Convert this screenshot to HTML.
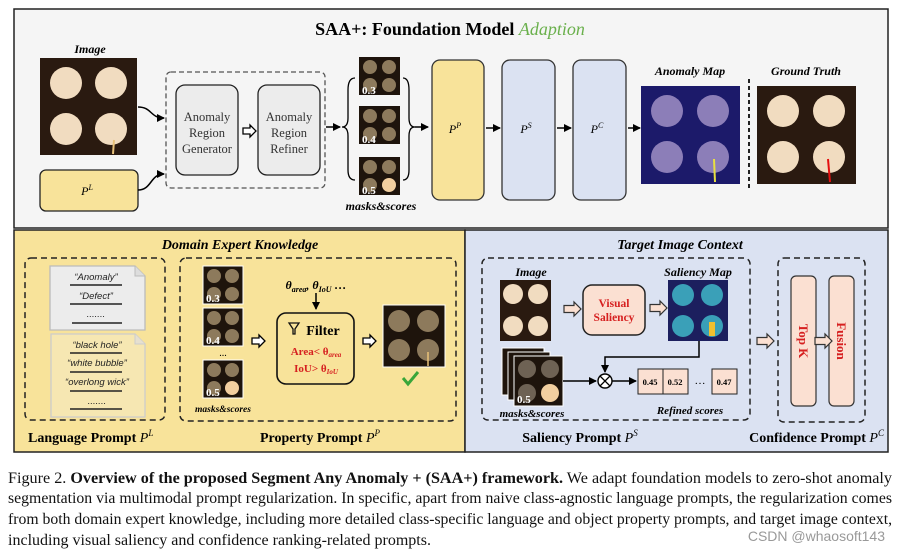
<!DOCTYPE html>
<html><head><meta charset="utf-8"><style>
html,body{margin:0;padding:0;background:#fff;}
svg{display:block;font-family:"Liberation Serif",serif;}
</style></head><body>
<svg width="899" height="555" viewBox="0 0 899 555" xmlns="http://www.w3.org/2000/svg">
<defs>
<marker id="ah" markerWidth="8" markerHeight="8" refX="7" refY="4" orient="auto" markerUnits="userSpaceOnUse"><path d="M0,0 L8,4 L0,8 z" fill="#000"/></marker>
<g id="hol"><path d="M0,-3 L7,-3 L7,-6 L13,0 L7,6 L7,3 L0,3 z" fill="#fff" stroke="#000" stroke-width="1.3"/></g>
<g id="holP"><path d="M0,-3.5 L10,-3.5 L10,-7 L17,0 L10,7 L10,3.5 L0,3.5 z" fill="#fbe0d2" stroke="#333" stroke-width="1.2"/></g>
</defs>

<!-- TOP PANEL -->
<rect x="14" y="9" width="874" height="219" fill="#f5f5f5" stroke="#222" stroke-width="1.5"/>
<text x="450" y="35" text-anchor="middle" font-size="18" font-weight="bold">SAA+: Foundation Model <tspan fill="#6ab04c" font-style="italic" font-weight="normal">Adaption</tspan></text>

<text x="90" y="53" text-anchor="middle" font-size="12" font-weight="bold" font-style="italic">Image</text>
<rect x="40" y="58" width="97" height="97" fill="#2a1a10"/>
<circle cx="66" cy="83" r="16" fill="#f1dcc0"/><circle cx="111" cy="83" r="16" fill="#f1dcc0"/>
<circle cx="66" cy="129" r="16" fill="#f1dcc0"/><circle cx="111" cy="129" r="16" fill="#f1dcc0"/>
<line x1="114" y1="140" x2="113" y2="154" stroke="#e9c27a" stroke-width="2"/>
<rect x="40" y="170" width="98" height="41" rx="6" fill="#f8e39a" stroke="#222" stroke-width="1.3"/>
<text x="87" y="195" text-anchor="middle" font-size="12" font-style="italic">P<tspan font-size="8" dy="-5">L</tspan></text>
<path d="M138,107 C152,107 150,118 164,118" fill="none" stroke="#000" stroke-width="1.5" marker-end="url(#ah)"/>
<path d="M138,190 C152,190 150,174 164,174" fill="none" stroke="#000" stroke-width="1.5" marker-end="url(#ah)"/>

<rect x="166" y="72" width="159" height="116" rx="5" fill="none" stroke="#555" stroke-width="1.3" stroke-dasharray="5,3"/>
<rect x="176" y="85" width="62" height="90" rx="9" fill="#ececec" stroke="#222" stroke-width="1.3"/>
<rect x="258" y="85" width="62" height="90" rx="9" fill="#ececec" stroke="#222" stroke-width="1.3"/>
<g font-size="12.5" fill="#333" text-anchor="middle">
<text x="207" y="121">Anomaly</text><text x="207" y="137">Region</text><text x="207" y="153">Generator</text>
<text x="289" y="121">Anomaly</text><text x="289" y="137">Region</text><text x="289" y="153">Refiner</text>
</g>
<use href="#hol" x="243" y="131"/>
<line x1="326" y1="127" x2="340" y2="127" stroke="#000" stroke-width="1.5" marker-end="url(#ah)"/>
<path d="M355,78 Q348,78 348,90 L348,118 Q348,127 342,127 Q348,127 348,136 L348,170 Q348,180 355,180" fill="none" stroke="#000" stroke-width="1.3"/>
<path d="M403,78 Q409,78 409,90 L409,118 Q409,127 415,127 Q409,127 409,136 L409,170 Q409,180 403,180" fill="none" stroke="#000" stroke-width="1.3"/>
<line x1="415" y1="127" x2="428" y2="127" stroke="#000" stroke-width="1.5" marker-end="url(#ah)"/>

<rect x="359" y="57" width="41" height="38" fill="#1e140c"/>
<circle cx="370" cy="67" r="7" fill="#8d7a5c"/><circle cx="389" cy="67" r="7" fill="#8d7a5c"/>
<circle cx="370" cy="85" r="7" fill="#8d7a5c"/><circle cx="389" cy="85" r="7" fill="#8d7a5c"/>
<text x="362" y="94" font-size="11" font-weight="bold" fill="#fff">0.3</text>
<rect x="359" y="106" width="41" height="38" fill="#1e140c"/>
<circle cx="370" cy="116" r="7" fill="#8d7a5c"/><circle cx="389" cy="116" r="7" fill="#8d7a5c"/>
<circle cx="370" cy="134" r="7" fill="#8d7a5c"/><circle cx="389" cy="134" r="7" fill="#8d7a5c"/>
<text x="362" y="143" font-size="11" font-weight="bold" fill="#fff">0.4</text>
<rect x="359" y="157" width="41" height="38" fill="#1e140c"/>
<circle cx="370" cy="167" r="7" fill="#8d7a5c"/><circle cx="389" cy="167" r="7" fill="#8d7a5c"/>
<circle cx="370" cy="185" r="7" fill="#8d7a5c"/><circle cx="389" cy="185" r="7" fill="#f2cfa0"/>
<text x="362" y="194" font-size="11" font-weight="bold" fill="#fff">0.5</text>
<text x="381" y="210" text-anchor="middle" font-size="12" font-weight="bold" font-style="italic">masks&amp;scores</text>

<rect x="432" y="60" width="52" height="140" rx="8" fill="#f8e39a" stroke="#333" stroke-width="1.3"/>
<text x="455" y="133" text-anchor="middle" font-size="12" font-style="italic">P<tspan font-size="8" dy="-5">P</tspan></text>
<line x1="486" y1="128" x2="500" y2="128" stroke="#000" stroke-width="1.5" marker-end="url(#ah)"/>
<rect x="502" y="60" width="53" height="140" rx="8" fill="#dbe2f2" stroke="#333" stroke-width="1.3"/>
<text x="526" y="133" text-anchor="middle" font-size="12" font-style="italic">P<tspan font-size="8" dy="-5">S</tspan></text>
<line x1="557" y1="128" x2="571" y2="128" stroke="#000" stroke-width="1.5" marker-end="url(#ah)"/>
<rect x="573" y="60" width="53" height="140" rx="8" fill="#dbe2f2" stroke="#333" stroke-width="1.3"/>
<text x="597" y="133" text-anchor="middle" font-size="12" font-style="italic">P<tspan font-size="8" dy="-5">C</tspan></text>
<line x1="628" y1="128" x2="640" y2="128" stroke="#000" stroke-width="1.5" marker-end="url(#ah)"/>

<text x="690" y="75" text-anchor="middle" font-size="12" font-weight="bold" font-style="italic">Anomaly Map</text>
<rect x="641" y="86" width="99" height="98" fill="#1c1a6a"/>
<circle cx="667" cy="111" r="16" fill="#8c7eb8"/><circle cx="713" cy="111" r="16" fill="#8c7eb8"/>
<circle cx="667" cy="157" r="16" fill="#8c7eb8"/><circle cx="713" cy="157" r="16" fill="#8c7eb8"/>
<line x1="714" y1="159" x2="715" y2="182" stroke="#e8e040" stroke-width="2"/>
<line x1="749" y1="79" x2="749" y2="191" stroke="#222" stroke-width="2" stroke-dasharray="4,3"/>
<text x="806" y="75" text-anchor="middle" font-size="12" font-weight="bold" font-style="italic">Ground Truth</text>
<rect x="757" y="86" width="99" height="98" fill="#2a1a10"/>
<circle cx="783" cy="111" r="16" fill="#f1dcc0"/><circle cx="829" cy="111" r="16" fill="#f1dcc0"/>
<circle cx="783" cy="157" r="16" fill="#f1dcc0"/><circle cx="829" cy="157" r="16" fill="#f1dcc0"/>
<line x1="828" y1="159" x2="830" y2="182" stroke="#e41010" stroke-width="2"/>

<!-- BOTTOM LEFT -->
<rect x="14" y="230" width="451" height="222" fill="#f8e39a" stroke="#222" stroke-width="1.5"/>
<text x="240" y="249" text-anchor="middle" font-size="14" font-weight="bold" font-style="italic">Domain Expert Knowledge</text>
<rect x="25" y="258" width="140" height="162" rx="6" fill="none" stroke="#222" stroke-width="1.5" stroke-dasharray="6,4"/>
<path d="M50,266 L135,266 L145,276 L145,330 L50,330 z" fill="#ececec" stroke="#bbb" stroke-width="1.3"/>
<path d="M135,266 L135,276 L145,276" fill="#ddd" stroke="#bbb"/>
<path d="M51,334 L135,334 L145,344 L145,417 L51,417 z" fill="#f6e7b2" stroke="#ccc" stroke-width="1.3"/>
<path d="M135,334 L135,344 L145,344" fill="#e6e0d0" stroke="#ccc"/>
<g font-family="'Liberation Sans',sans-serif" font-size="9.5" font-style="italic" fill="#222" text-anchor="middle">
<text x="96" y="280">“Anomaly”</text><text x="96" y="299">“Defect”</text><text x="96" y="317">.......</text>
<text x="97" y="348">“black hole”</text><text x="97" y="366">“white bubble”</text><text x="97" y="385">“overlong wick”</text><text x="97" y="404">.......</text>
</g>
<g stroke="#222" stroke-width="1.5">
<line x1="70" y1="285" x2="122" y2="285"/><line x1="70" y1="304" x2="122" y2="304"/><line x1="72" y1="323" x2="122" y2="323"/>
<line x1="70" y1="353" x2="122" y2="353"/><line x1="70" y1="372" x2="122" y2="372"/><line x1="70" y1="391" x2="122" y2="391"/><line x1="70" y1="409" x2="122" y2="409"/>
</g>
<text x="28" y="442" font-size="14" font-weight="bold">Language Prompt <tspan font-weight="normal" font-style="italic">P</tspan><tspan font-weight="normal" font-style="italic" font-size="9" dy="-6">L</tspan></text>

<rect x="180" y="258" width="276" height="163" rx="6" fill="none" stroke="#222" stroke-width="1.5" stroke-dasharray="6,4"/>
<rect x="203" y="266" width="40" height="38" fill="#1e140c" stroke="#fff"/>
<circle cx="214" cy="276" r="7" fill="#8d7a5c"/><circle cx="232" cy="276" r="7" fill="#8d7a5c"/><circle cx="214" cy="294" r="7" fill="#8d7a5c"/><circle cx="232" cy="294" r="7" fill="#8d7a5c"/>
<text x="206" y="302" font-size="11" font-weight="bold" fill="#fff">0.3</text>
<rect x="203" y="308" width="40" height="38" fill="#1e140c" stroke="#fff"/>
<circle cx="214" cy="318" r="7" fill="#8d7a5c"/><circle cx="232" cy="318" r="7" fill="#8d7a5c"/><circle cx="214" cy="336" r="7" fill="#8d7a5c"/><circle cx="232" cy="336" r="7" fill="#8d7a5c"/>
<text x="206" y="344" font-size="11" font-weight="bold" fill="#fff">0.4</text>
<text x="223" y="356" text-anchor="middle" font-size="10">...</text>
<rect x="203" y="360" width="40" height="38" fill="#1e140c" stroke="#fff"/>
<circle cx="214" cy="370" r="7" fill="#8d7a5c"/><circle cx="232" cy="370" r="7" fill="#8d7a5c"/><circle cx="214" cy="388" r="7" fill="#8d7a5c"/><circle cx="232" cy="388" r="7" fill="#f2cfa0"/>
<text x="206" y="396" font-size="11" font-weight="bold" fill="#fff">0.5</text>
<text x="223" y="412" text-anchor="middle" font-size="9.5" font-weight="bold" font-style="italic">masks&amp;scores</text>
<use href="#hol" x="252" y="341"/>
<text x="316" y="289" text-anchor="middle" font-size="12" font-weight="bold" font-style="italic">θ<tspan font-size="8" dy="3">area</tspan><tspan dy="-3">, θ</tspan><tspan font-size="8" dy="3">IoU</tspan><tspan dy="-3"> …</tspan></text>
<line x1="316" y1="293" x2="316" y2="309" stroke="#000" stroke-width="1.5" marker-end="url(#ah)"/>
<rect x="277" y="313" width="77" height="71" rx="9" fill="#f8e39a" stroke="#111" stroke-width="1.6"/>
<path d="M289,323 L299,323 L295,329 L295,334 L293,334 L293,329 z" fill="none" stroke="#111" stroke-width="1.3"/>
<text x="323" y="335" text-anchor="middle" font-size="14" font-weight="bold">Filter</text>
<text x="316" y="355" text-anchor="middle" font-size="11" font-weight="bold" fill="#d62020">Area&lt; θ<tspan font-size="7" dy="2" font-style="italic">area</tspan></text>
<text x="316" y="372" text-anchor="middle" font-size="11" font-weight="bold" fill="#d62020">IoU&gt; θ<tspan font-size="7" dy="2" font-style="italic">IoU</tspan></text>
<use href="#hol" x="363" y="341"/>
<rect x="383" y="305" width="62" height="62" fill="#1e140c" stroke="#fff"/>
<circle cx="399" cy="321" r="11" fill="#8d7a5c"/><circle cx="428" cy="321" r="11" fill="#8d7a5c"/><circle cx="399" cy="350" r="11" fill="#8d7a5c"/><circle cx="428" cy="350" r="11" fill="#8d7a5c"/>
<line x1="428" y1="352" x2="428" y2="366" stroke="#e9c27a" stroke-width="1.5"/>
<path d="M403,378 L408,384 L418,372" fill="none" stroke="#3aa63a" stroke-width="3"/>
<text x="320" y="442" text-anchor="middle" font-size="14" font-weight="bold">Property Prompt <tspan font-weight="normal" font-style="italic">P</tspan><tspan font-weight="normal" font-style="italic" font-size="9" dy="-6">P</tspan></text>

<!-- BOTTOM RIGHT -->
<rect x="465" y="230" width="423" height="222" fill="#dbe2f2" stroke="#222" stroke-width="1.5"/>
<text x="680" y="249" text-anchor="middle" font-size="14" font-weight="bold" font-style="italic">Target Image Context</text>
<rect x="482" y="258" width="268" height="162" rx="6" fill="none" stroke="#222" stroke-width="1.5" stroke-dasharray="6,4"/>
<text x="531" y="276" text-anchor="middle" font-size="12" font-weight="bold" font-style="italic">Image</text>
<rect x="500" y="280" width="51" height="61" fill="#2a1a10"/>
<circle cx="513" cy="294" r="10" fill="#f1dcc0"/><circle cx="538" cy="294" r="10" fill="#f1dcc0"/><circle cx="513" cy="326" r="10" fill="#f1dcc0"/><circle cx="538" cy="326" r="10" fill="#f1dcc0"/>
<use href="#holP" x="564" y="309"/>
<rect x="583" y="285" width="62" height="50" rx="9" fill="#fbe0d2" stroke="#222" stroke-width="1.5"/>
<text x="614" y="307" text-anchor="middle" font-size="11.5" font-weight="bold" fill="#d62020">Visual</text>
<text x="614" y="321" text-anchor="middle" font-size="11.5" font-weight="bold" fill="#d62020">Saliency</text>
<use href="#holP" x="650" y="308"/>
<text x="698" y="276" text-anchor="middle" font-size="12" font-weight="bold" font-style="italic">Saliency Map</text>
<rect x="668" y="280" width="60" height="61" fill="#1c1f5e"/>
<circle cx="683" cy="295" r="11" fill="#3aa0b8"/><circle cx="712" cy="295" r="11" fill="#3aa0b8"/><circle cx="683" cy="326" r="11" fill="#3aa0b8"/><circle cx="712" cy="326" r="11" fill="#3aa0b8"/>
<rect x="709" y="322" width="6" height="14" fill="#f0c030"/>
<path d="M699,341 L699,357 L605,357 L605,372" fill="none" stroke="#000" stroke-width="1.5" marker-end="url(#ah)"/>
<rect x="502" y="348" width="42" height="47" fill="#1e140c" stroke="#fff"/>
<rect x="508" y="352" width="42" height="48" fill="#1e140c" stroke="#fff"/>
<rect x="514" y="356" width="49" height="50" fill="#1e140c" stroke="#fff"/>
<circle cx="527" cy="369" r="9" fill="#6e6254"/><circle cx="550" cy="369" r="9" fill="#6e6254"/><circle cx="527" cy="393" r="9" fill="#6e6254"/><circle cx="550" cy="393" r="9" fill="#f2cfa0"/>
<text x="517" y="403" font-size="11" font-weight="bold" fill="#fff">0.5</text>
<text x="532" y="417" text-anchor="middle" font-size="11" font-weight="bold" font-style="italic">masks&amp;scores</text>
<line x1="563" y1="381" x2="596" y2="381" stroke="#000" stroke-width="1.5" marker-end="url(#ah)"/>
<circle cx="605" cy="381" r="7" fill="#fff" stroke="#000" stroke-width="1.4"/>
<path d="M600,376 L610,386 M610,376 L600,386" stroke="#000" stroke-width="1.3"/>
<line x1="612" y1="381" x2="636" y2="381" stroke="#000" stroke-width="1.5" marker-end="url(#ah)"/>
<rect x="638" y="369" width="25" height="25" fill="#fbe0d2" stroke="#222"/>
<rect x="663" y="369" width="25" height="25" fill="#fbe0d2" stroke="#222"/>
<rect x="712" y="369" width="25" height="25" fill="#fbe0d2" stroke="#222"/>
<g font-size="8.5" font-weight="bold" text-anchor="middle"><text x="650" y="385">0.45</text><text x="675" y="385">0.52</text><text x="724" y="385">0.47</text></g>
<text x="700" y="384" text-anchor="middle" font-size="11">…</text>
<text x="690" y="414" text-anchor="middle" font-size="11" font-weight="bold" font-style="italic">Refined scores</text>
<text x="580" y="442" text-anchor="middle" font-size="14" font-weight="bold">Saliency Prompt <tspan font-weight="normal" font-style="italic">P</tspan><tspan font-weight="normal" font-style="italic" font-size="9" dy="-6">S</tspan></text>
<use href="#holP" x="757" y="341"/>
<rect x="778" y="258" width="87" height="164" rx="6" fill="none" stroke="#222" stroke-width="1.5" stroke-dasharray="6,4"/>
<rect x="791" y="276" width="25" height="130" rx="5" fill="#fbe0d2" stroke="#333" stroke-width="1.2"/>
<rect x="829" y="276" width="25" height="130" rx="5" fill="#fbe0d2" stroke="#333" stroke-width="1.2"/>
<text transform="translate(799,341) rotate(90)" text-anchor="middle" font-size="13" font-weight="bold" fill="#d62020">Top K</text>
<text transform="translate(837,341) rotate(90)" text-anchor="middle" font-size="13" font-weight="bold" fill="#d62020">Fusion</text>
<use href="#holP" x="815" y="341"/>
<text x="884" y="442" text-anchor="end" font-size="14" font-weight="bold">Confidence Prompt <tspan font-weight="normal" font-style="italic">P</tspan><tspan font-weight="normal" font-style="italic" font-size="9" dy="-6">C</tspan></text>

<!-- CAPTION -->
<g font-size="15.5" fill="#111">
<text x="8" y="483" textLength="884" lengthAdjust="spacingAndGlyphs">Figure 2. <tspan font-weight="bold">Overview of the proposed Segment Any Anomaly + (SAA+) framework.</tspan> We adapt foundation models to zero-shot anomaly</text>
<text x="8" y="503" textLength="884" lengthAdjust="spacingAndGlyphs">segmentation via multimodal prompt regularization. In specific, apart from naive class-agnostic language prompts, the regularization comes</text>
<text x="8" y="524" textLength="884" lengthAdjust="spacingAndGlyphs">from both domain expert knowledge, including more detailed class-specific language and object property prompts, and target image context,</text>
<text x="8" y="545" textLength="423" lengthAdjust="spacingAndGlyphs">including visual saliency and confidence ranking-related prompts.</text>
</g>
<text x="885" y="541" text-anchor="end" font-family="'Liberation Sans',sans-serif" font-size="14" fill="#999">CSDN @whaosoft143</text>
</svg>
</body></html>
